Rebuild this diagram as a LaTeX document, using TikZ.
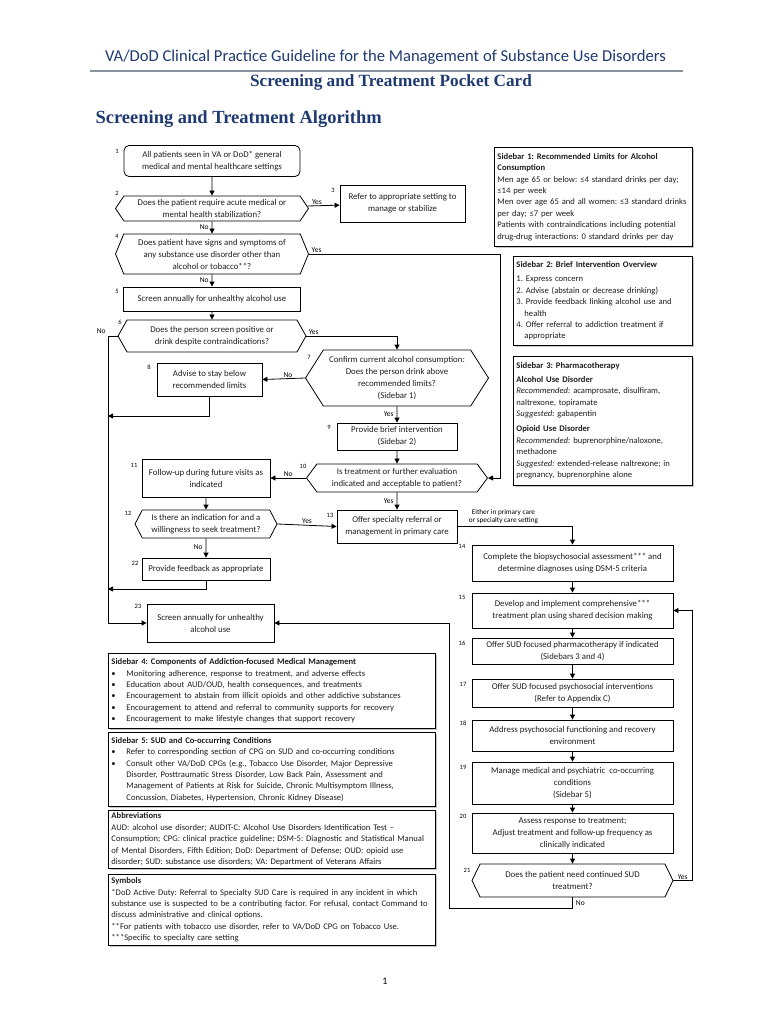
\documentclass[tikz,border=0pt]{standalone}
\usepackage{fontspec}
\setmainfont{Carlito}
\newfontfamily\hdserif{Liberation Serif}
\frenchspacing
\usetikzlibrary{arrows.meta, shapes.symbols, shadows}
\definecolor{navy}{HTML}{1F3A70}
\definecolor{rulec}{HTML}{8C929C}
\definecolor{ink}{HTML}{1E1E1E}
\newcommand{\sbul}{\makebox[15pt][l]{\textbullet}}
\newcommand{\sbind}{\hspace*{15pt}}
\tikzset{
  % flow boxes and decision hexagons
  B/.style={draw=black, line width=0.8pt, align=center, inner sep=1pt,
    font=\fontsize{8.8}{12}\selectfont, text=ink},
  R/.style={B, rounded corners=5pt},
  H/.style={B, shape=signal, signal to=east and west, signal pointer angle=#1},
  H/.default=120,
  % sidebar panels
  SB/.style={draw=black, line width=0.9pt, anchor=north west, align=left,
    inner xsep=3pt, inner ysep=2pt, fill=white,
    drop shadow={shadow xshift=1.2pt, shadow yshift=-1.2pt, opacity=0.45},
    font=\fontsize{8.6}{11.4}\selectfont, text=ink},
  A/.style={-{Triangle[length=5pt,width=5pt]}, line width=0.8pt},
  num/.style={font=\fontsize{6.5}{7}\selectfont, inner sep=0pt},
  yn/.style={font=\fontsize{7.5}{8}\selectfont, inner sep=1pt},
  note/.style={font=\fontsize{7.2}{8.5}\selectfont, align=center, inner sep=1pt},
}

\begin{document}
\begin{tikzpicture}[x=1pt, y=-1pt]
\useasboundingbox (0,0) rectangle (770,1024);

% ---- page header ----------------------------------------------------
\node[font=\fontsize{16.6}{18}\selectfont, text=navy] (hdr) at (385.5,57)
  {VA/DoD Clinical Practice Guideline for the Management of Substance Use Disorders};
\draw[rulec, line width=1.2pt] (90,71) -- (683,71);
\node[font=\hdserif\bfseries\fontsize{17.2}{18}\selectfont, text=navy] (card) at (391,82)
  {Screening and Treatment Pocket Card};
\node[anchor=west, font=\hdserif\bfseries\fontsize{18.5}{20}\selectfont, text=navy] (algo) at (92,119)
  {Screening and Treatment Algorithm};

% ---- screening column -----------------------------------------------
\node[R, minimum width=176pt, minimum height=31pt] (n1) at (212,161)
  {All patients seen in VA or DoD* general\\medical and mental healthcare settings};
\node[H=112, minimum width=193pt, minimum height=25pt] (n2) at (212,208.5)
  {Does the patient require acute medical or\\mental health stabilization?};
\node[B, minimum width=125pt, minimum height=37pt] (n3) at (402.5,203.5)
  {Refer to appropriate setting to\\manage or stabilize};
\node[H=135, minimum width=193pt, minimum height=40pt] (n4) at (212,254)
  {Does patient have signs and symptoms of\\any substance use disorder other than\\alcohol or tobacco**?};
\node[B, minimum width=177pt, minimum height=24pt] (n5) at (212,299)
  {Screen annually for unhealthy alcohol use};
\node[H=121, minimum width=188pt, minimum height=32pt] (n6) at (212,336)
  {Does the person screen positive or\\drink despite contraindications?};
\node[H=115, minimum width=183pt, minimum height=56pt] (n7) at (397,378)
  {Confirm current alcohol consumption:\\Does the person drink above\\recommended limits?\\(Sidebar 1)};
\node[B, minimum width=105pt, minimum height=33pt] (n8) at (209.5,379.5)
  {Advise to stay below\\recommended limits};
\node[B, minimum width=120pt, minimum height=27pt] (n9) at (397,436.5)
  {Provide brief intervention\\(Sidebar 2)};
\node[H=107, minimum width=181pt, minimum height=28pt] (n10) at (397,478)
  {Is treatment or further evaluation\\indicated and acceptable to patient?};
\node[B, minimum width=128pt, minimum height=38pt] (n11) at (206,478)
  {Follow-up during future visits as\\indicated};
\node[H=125, minimum width=142pt, minimum height=28pt] (n12) at (206,524)
  {Is there an indication for and a\\willingness to seek treatment?};
\node[B, minimum width=120pt, minimum height=33pt] (n13) at (397,526.5)
  {Offer specialty referral or\\management in primary care};
\node[B, minimum width=128pt, minimum height=22pt] (n22) at (206,569)
  {Provide feedback as appropriate};
\node[B, minimum width=127pt, minimum height=38pt] (n23) at (210.5,623)
  {Screen annually for unhealthy\\alcohol use};

% ---- treatment column -----------------------------------------------
\node[B, minimum width=201pt, minimum height=36pt] (n14) at (572.5,563)
  {Complete the biopsychosocial assessment*** and\\determine diagnoses using DSM-5 criteria};
\node[B, minimum width=201pt, minimum height=35pt] (n15) at (572.5,610.5)
  {Develop and implement comprehensive***\\treatment plan using shared decision making};
\node[B, minimum width=201pt, minimum height=26pt] (n16) at (572.5,651)
  {Offer SUD focused pharmacotherapy if indicated\\(Sidebars 3 and 4)};
\node[B, minimum width=201pt, minimum height=28pt] (n17) at (572.5,693)
  {Offer SUD focused psychosocial interventions\\(Refer to Appendix C)};
\node[B, minimum width=201pt, minimum height=31pt] (n18) at (572.5,735.5)
  {Address psychosocial functioning and recovery\\environment};
\node[B, minimum width=201pt, minimum height=42pt] (n19) at (572.5,783)
  {Manage medical and psychiatric\ \ co-occurring\\conditions\\(Sidebar 5)};
\node[B, minimum width=201pt, minimum height=40pt] (n20) at (572.5,833)
  {Assess response to treatment;\\Adjust treatment and follow-up frequency as\\clinically indicated};
\node[H=128, minimum width=201pt, minimum height=33pt] (n21) at (572.5,880.5)
  {Does the patient need continued SUD\\treatment?};

% step numbers
\foreach \k/\px/\py in {1/117/151, 2/117/193, 3/333/190, 4/117/236, 5/117/291,
    6/120/322, 7/309/357, 8/149/367, 9/329/427, 10/303/466, 11/134/465,
    12/128/513, 13/330/515, 14/462/546, 15/462/597, 16/462/643, 17/463/684,
    18/463/723, 19/463/767, 20/463/816, 21/467/870, 22/135/563, 23/138/606}
  \node[num] (l\k) at (\px,\py) {\k};

% rails
\coordinate (railL) at (108,0);
\coordinate (railR) at (500,0);
\coordinate (j8) at (108,416);
\coordinate (j22) at (108,589);
\coordinate (loopB) at (449,908);
\coordinate (loopY) at (692,0);

% ---- connectors -----------------------------------------------------
\draw[A] (n1) -- (n2);
\draw[A] (n2) -- node[yn, above, pos=0.3]{Yes} (n3);
\draw[A] (n2) -- node[yn, left=2pt, pos=0.45]{No} (n4);
\draw[A] (n4.east) -- node[yn, above, pos=0.04]{Yes} (n4.east -| railR) |- (n10.east);
\draw[A] (n4) -- node[yn, left=2pt, pos=0.45]{No} (n5);
\draw[A] (n5) -- (n6);
\draw[A] (n6.east) -| node[yn, above, pos=0.04]{Yes} (n7.north);
\draw[A] (n6.west) -- (n6.west -| railL) node[yn, above left=1pt]{No} |- (n23.west);
\draw[A] (n7.west) -- node[yn, above, pos=0.4]{No} (n8.east);
\draw[A] (n8.south) |- (j8);
\draw[A] (n7) -- node[yn, left=2pt]{Yes} (n9);
\draw[A] (n9) -- (n10);
\draw[A] (n10.west) -- node[yn, above]{No} (n11.east);
\draw[A] (n10) -- node[yn, left=2pt]{Yes} (n13);
\draw[A] (n11) -- (n12);
\draw[A] (n12.east) -- node[yn, above]{Yes} (n13.west);
\draw[A] (n12) -- node[yn, left=2pt, pos=0.45]{No} (n22);
\draw[A] (n22.south) |- (j22);
\draw[A] (n13.east) -| node[note, above=1pt, pos=0.2]{Either in primary care\\or specialty care setting} (n14.north);
\draw[A] (n14) -- (n15);
\draw[A] (n15) -- (n16);
\draw[A] (n16) -- (n17);
\draw[A] (n17) -- (n18);
\draw[A] (n18) -- (n19);
\draw[A] (n19) -- (n20);
\draw[A] (n20) -- (n21);
\draw[A] (n21.east) -- node[yn, above, pos=0.5]{Yes} (n21.east -| loopY) |- (n15.east);
\draw[A] (n21.south) |- node[yn, right=2pt, pos=0.25]{No} (loopB) |- (n23.east);

% ---- sidebars -------------------------------------------------------
\node[SB, text width=192pt, minimum height=99pt] (sb1) at (494,147)
  {\textbf{Sidebar 1: Recommended Limits for Alcohol}\\
   \textbf{Consumption}\\
   Men age 65 or below: ≤4 standard drinks per day;\\
   ≤14 per week\\
   Men over age 65 and all women: ≤3 standard drinks\\
   per day; ≤7 per week\\
   Patients with contraindications including potential\\
   drug-drug interactions: 0 standard drinks per day};
\node[SB, text width=173pt, minimum height=89pt] (sb2) at (513,256)
  {\textbf{Sidebar 2: Brief Intervention Overview}\\[3pt]
   1. Express concern\\
   2. Advise (abstain or decrease drinking)\\
   3. Provide feedback linking alcohol use and\\
   \hspace*{8pt}health\\
   4. Offer referral to addiction treatment if\\
   \hspace*{8pt}appropriate};
\node[SB, text width=173pt, minimum height=129pt] (sb3) at (513,356)
  {\textbf{Sidebar 3: Pharmacotherapy}\\[2pt]
   \textbf{Alcohol Use Disorder}\\
   \textit{Recommended:} acamprosate, disulfiram,\\
   naltrexone, topiramate\\
   \textit{Suggested:} gabapentin\\[4pt]
   \textbf{Opioid Use Disorder}\\
   \textit{Recommended:} buprenorphine/naloxone,\\
   methadone\\
   \textit{Suggested:} extended-release naltrexone; in\\
   pregnancy, buprenorphine alone};
\node[SB, text width=321pt, minimum height=75pt] (sb4) at (108,653)
  {\textbf{Sidebar 4: Components of Addiction-focused Medical Management}\\
   \sbul Monitoring adherence, response to treatment, and adverse effects\\
   \sbul Education about AUD/OUD, health consequences, and treatments\\
   \sbul Encouragement to abstain from illicit opioids and other addictive substances\\
   \sbul Encouragement to attend and referral to community supports for recovery\\
   \sbul Encouragement to make lifestyle changes that support recovery};
\node[SB, text width=321pt, minimum height=74pt] (sb5) at (108,732)
  {\textbf{Sidebar 5: SUD and Co-occurring Conditions}\\
   \sbul Refer to corresponding section of CPG on SUD and co-occurring conditions\\
   \sbul Consult other VA/DoD CPGs (e.g., Tobacco Use Disorder, Major Depressive\\
   \sbind Disorder, Posttraumatic Stress Disorder, Low Back Pain, Assessment and\\
   \sbind Management of Patients at Risk for Suicide, Chronic Multisymptom Illness,\\
   \sbind Concussion, Diabetes, Hypertension, Chronic Kidney Disease)};
\node[SB, text width=321pt, minimum height=58pt] (abbr) at (108,810)
  {\textbf{Abbreviations}\\
   AUD: alcohol use disorder; AUDIT-C: Alcohol Use Disorders Identification Test --\\
   Consumption; CPG: clinical practice guideline; DSM-5: Diagnostic and Statistical Manual\\
   of Mental Disorders, Fifth Edition; DoD: Department of Defense; OUD: opioid use\\
   disorder; SUD: substance use disorders; VA: Department of Veterans Affairs};
\node[SB, text width=321pt, minimum height=71pt] (symb) at (108,874)
  {\textbf{Symbols}\\
   {*}DoD Active Duty: Referral to Specialty SUD Care is required in any incident in which\\
   substance use is suspected to be a contributing factor. For refusal, contact Command to\\
   discuss administrative and clinical options.\\
   {**}For patients with tobacco use disorder, refer to VA/DoD CPG on Tobacco Use.\\
   {***}Specific to specialty care setting};

% page number
\node[font=\fontsize{10}{12}\selectfont] (pg) at (385,981) {1};

\end{tikzpicture}
\end{document}
